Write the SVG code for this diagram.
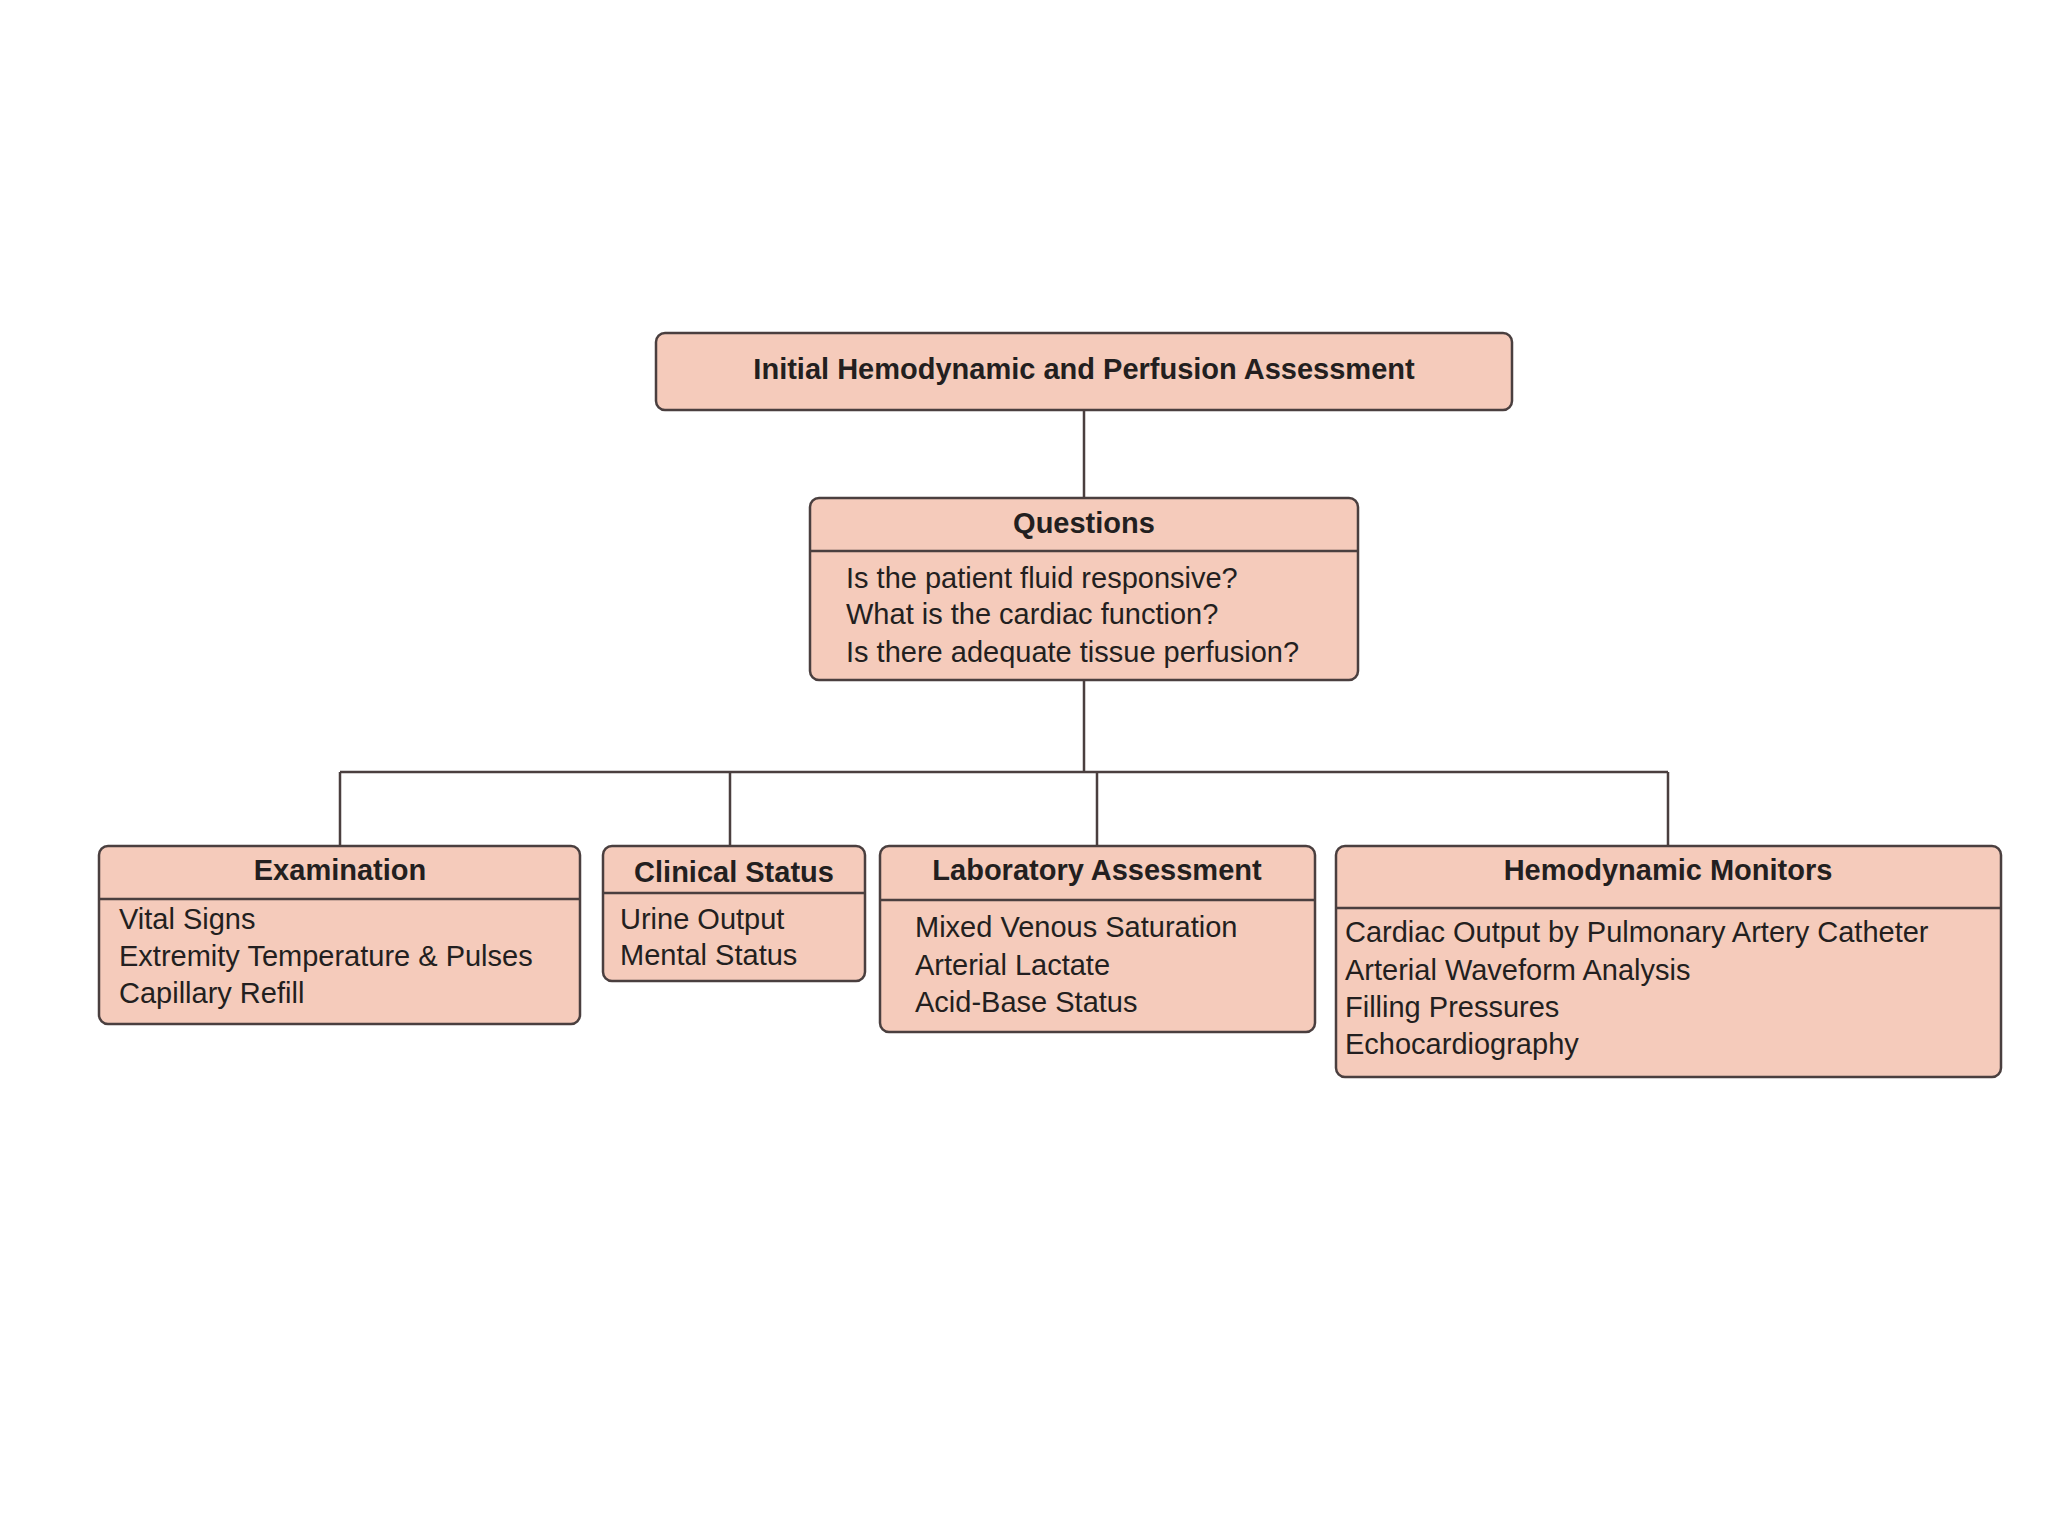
<svg xmlns="http://www.w3.org/2000/svg" width="2048" height="1536" viewBox="0 0 2048 1536">
<style>
.box{fill:#f5cbbb;stroke:#4a3f3f;stroke-width:2.5}
.div{stroke:#4a3f3f;stroke-width:2.5}
.t{font-family:"Liberation Sans",Arial,sans-serif;font-weight:bold;font-size:29px;fill:#231f20;text-anchor:middle;dominant-baseline:middle}
.b{font-family:"Liberation Sans",Arial,sans-serif;font-size:29px;fill:#231f20;dominant-baseline:middle}
.c{fill:none;stroke:#4a3f3f;stroke-width:2.5}
</style>
<rect width="2048" height="1536" fill="#fff"/>
<g id="connectors">
<path class="c" d="M1084 410V498M1084 680V772M340 772H1668M340 772V846M730 772V846M1097 772V846M1668 772V846"/>
</g>
<g id="n-initial">
<rect class="box" x="656" y="333" width="856" height="77" rx="9"/>
<text class="t" x="1084" y="371">Initial Hemodynamic and Perfusion Assessment</text>
</g>
<g id="n-questions">
<rect class="box" x="810" y="498" width="548" height="182" rx="9"/>
<line class="div" x1="810" y1="551" x2="1358" y2="551"/>
<text class="t" x="1084" y="525">Questions</text>
<text class="b" x="846" y="580">Is the patient fluid responsive?</text>
<text class="b" x="846" y="616">What is the cardiac function?</text>
<text class="b" x="846" y="654">Is there adequate tissue perfusion?</text>
</g>
<g id="n-exam">
<rect class="box" x="99" y="846" width="481" height="178" rx="9"/>
<line class="div" x1="99" y1="899" x2="580" y2="899"/>
<text class="t" x="340" y="872">Examination</text>
<text class="b" x="119" y="921">Vital Signs</text>
<text class="b" x="119" y="958">Extremity Temperature &amp; Pulses</text>
<text class="b" x="119" y="995">Capillary Refill</text>
</g>
<g id="n-clinical">
<rect class="box" x="603" y="846" width="262" height="135" rx="9"/>
<line class="div" x1="603" y1="893" x2="865" y2="893"/>
<text class="t" x="734" y="874">Clinical Status</text>
<text class="b" x="620" y="921">Urine Output</text>
<text class="b" x="620" y="957">Mental Status</text>
</g>
<g id="n-lab">
<rect class="box" x="880" y="846" width="435" height="186" rx="9"/>
<line class="div" x1="880" y1="900" x2="1315" y2="900"/>
<text class="t" x="1097" y="872">Laboratory Assessment</text>
<text class="b" x="915" y="929">Mixed Venous Saturation</text>
<text class="b" x="915" y="967">Arterial Lactate</text>
<text class="b" x="915" y="1004">Acid-Base Status</text>
</g>
<g id="n-hemo">
<rect class="box" x="1336" y="846" width="665" height="231" rx="9"/>
<line class="div" x1="1336" y1="908" x2="2001" y2="908"/>
<text class="t" x="1668" y="872">Hemodynamic Monitors</text>
<text class="b" x="1345" y="934">Cardiac Output by Pulmonary Artery Catheter</text>
<text class="b" x="1345" y="972">Arterial Waveform Analysis</text>
<text class="b" x="1345" y="1009">Filling Pressures</text>
<text class="b" x="1345" y="1046">Echocardiography</text>
</g>
</svg>
